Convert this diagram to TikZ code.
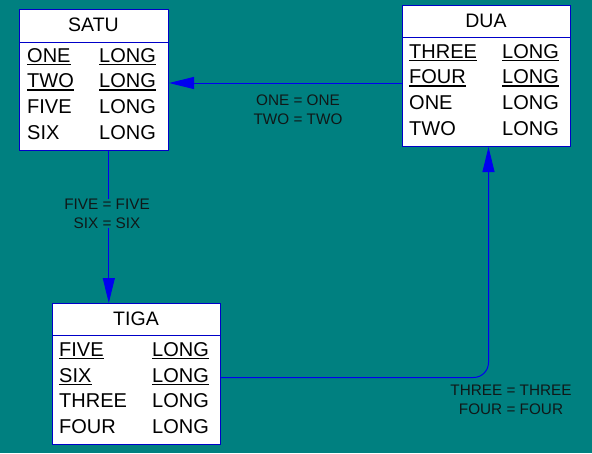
\documentclass[tikz,border=0pt]{standalone}
\usepackage{fontspec}
\setmainfont{Liberation Sans}
\usetikzlibrary{arrows.meta}
\definecolor{bgteal}{HTML}{008080}
\definecolor{boxblue}{HTML}{0000C8}
\definecolor{connblue}{HTML}{0000F0}
\definecolor{lbltext}{HTML}{101818}
\tikzset{
  x=1pt, y=-1pt,
  tbox/.style={draw=boxblue, line width=1pt, fill=white, anchor=north west, minimum width=#1, minimum height=141pt, inner sep=0pt},
  hdr/.style={anchor=base, inner sep=0pt, font=\fontsize{19.5pt}{22pt}\selectfont},
  cell/.style={anchor=base west, inner sep=0pt, font=\fontsize{20pt}{23pt}\selectfont},
  ulline/.style={line width=1.7pt, black},
  sepline/.style={draw=boxblue, line width=1pt},
  conn/.style={draw=connblue, line width=1pt, -{Triangle[length=25pt,width=12pt]}},
  lbl/.style={align=center, inner sep=0pt, fill=bgteal, text=lbltext, font=\fontsize{15.3pt}{19pt}\selectfont}
}
\begin{document}
\begin{tikzpicture}
\fill[bgteal] (0,0) rectangle (592,453);
\useasboundingbox (0,0) rectangle (592,453);

% SATU
\node[tbox=149pt] (satu) at (19,9) {};
\draw[sepline] ([yshift=-33pt]satu.north west) -- ([yshift=-33pt]satu.north east);
\node[hdr] (satuh) at (93.5,31.5) {SATU};
\node[cell] (s1a) at (27,62) {ONE};
\node[cell] (s1b) at (99,62) {LONG};
\node[cell] (s2a) at (27,87.5) {TWO};
\node[cell] (s2b) at (99,87.5) {LONG};
\node[cell] (s3a) at (27,113) {FIVE};
\node[cell] (s3b) at (99,113) {LONG};
\node[cell] (s4a) at (27,139) {SIX};
\node[cell] (s4b) at (99,139) {LONG};
\foreach \n in {s1a,s1b,s2a,s2b}
  \draw[ulline] ([yshift=-2.5pt]\n.base west) -- ([yshift=-2.5pt]\n.base east);

% DUA
\node[tbox=168pt] (dua) at (402,5) {};
\draw[sepline] ([yshift=-32pt]dua.north west) -- ([yshift=-32pt]dua.north east);
\node[hdr] (duah) at (486,27) {DUA};
\node[cell] (d1a) at (409,58) {THREE};
\node[cell] (d1b) at (502,58) {LONG};
\node[cell] (d2a) at (409,83.5) {FOUR};
\node[cell] (d2b) at (502,83.5) {LONG};
\node[cell] (d3a) at (409,109.5) {ONE};
\node[cell] (d3b) at (502,109.5) {LONG};
\node[cell] (d4a) at (409,135) {TWO};
\node[cell] (d4b) at (502,135) {LONG};
\foreach \n in {d1a,d1b,d2a,d2b}
  \draw[ulline] ([yshift=-2.5pt]\n.base west) -- ([yshift=-2.5pt]\n.base east);

% TIGA
\node[tbox=168pt] (tiga) at (52,303) {};
\draw[sepline] ([yshift=-32pt]tiga.north west) -- ([yshift=-32pt]tiga.north east);
\node[hdr] (tigah) at (136,325) {TIGA};
\node[cell] (t1a) at (59,356) {FIVE};
\node[cell] (t1b) at (152,356) {LONG};
\node[cell] (t2a) at (59,382) {SIX};
\node[cell] (t2b) at (152,382) {LONG};
\node[cell] (t3a) at (59,407.5) {THREE};
\node[cell] (t3b) at (152,407.5) {LONG};
\node[cell] (t4a) at (59,433) {FOUR};
\node[cell] (t4b) at (152,433) {LONG};
\foreach \n in {t1a,t1b,t2a,t2b}
  \draw[ulline] ([yshift=-2.5pt]\n.base west) -- ([yshift=-2.5pt]\n.base east);

% connectors
\draw[conn] ([yshift=-7pt]dua.west) -- ([yshift=-7pt]dua.west -| satu.east);
\draw[conn] ([xshift=14.8pt]satu.south) -- ([xshift=14.8pt]satu.south |- tiga.north);
\draw[conn, rounded corners=15pt] ([yshift=-3.5pt]tiga.east) -| ([xshift=2pt]dua.south);

% labels
\node[lbl] (lab1) at (298,109.5) {ONE = ONE\\TWO = TWO};
\node[lbl] (lab2) at (107,213.5) {FIVE = FIVE\\SIX = SIX};
\node[lbl] (lab3) at (511,400) {THREE = THREE\\FOUR = FOUR};
\end{tikzpicture}
\end{document}
